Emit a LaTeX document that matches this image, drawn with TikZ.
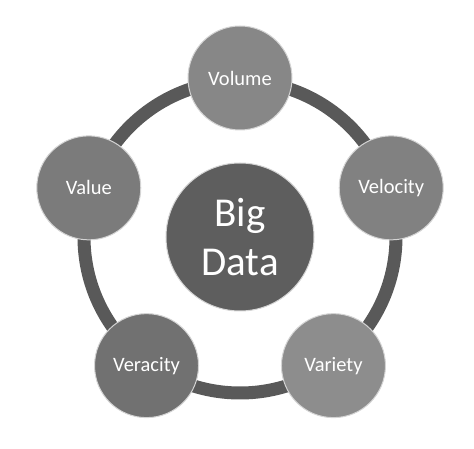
\documentclass[tikz,border=0pt]{standalone}
\usepackage{fontspec}
\setmainfont{Carlito}
\definecolor{ringBd}{HTML}{595959}
\definecolor{rimBd}{HTML}{D4D4D4}
\definecolor{coreFl}{HTML}{5E5E5E}
\definecolor{volFl}{HTML}{878787}
\definecolor{velFl}{HTML}{818181}
\definecolor{varFl}{HTML}{8D8D8D}
\definecolor{verFl}{HTML}{717171}
\definecolor{valFl}{HTML}{7B7B7B}

\begin{document}
\begin{tikzpicture}[
  font=\fontsize{23.3}{27}\selectfont,
  ring/.style={draw=ringBd, line width=0.52cm},
  vee/.style={circle, draw=rimBd, line width=0.04cm, text=white,
              minimum size=4.16cm, inner sep=0pt},
  core/.style={circle, draw=rimBd, line width=0.04cm, fill=coreFl, text=white,
               minimum size=5.92cm, inner sep=0pt, align=center,
               font=\fontsize{46.7}{55.8}\selectfont},
]
\useasboundingbox (-9.6cm,-8.48cm) rectangle (9.36cm,9.48cm);

% ---------------------------- the ring ------------------------------------
\draw[ring] (0,0) circle (6.24cm);

% ---------------------------- the core ------------------------------------
\node[core] (bigdata) at (0,0) {Big\\Data};

% ---------------------------- the five V's --------------------------------
\node[vee, fill=volFl] (volume)   at (90:6.36cm)   {Volume};
\node[vee, fill=velFl] (velocity) at (18:6.36cm)   {Velocity};
\node[vee, fill=varFl] (variety)  at (-54:6.36cm)  {Variety};
\node[vee, fill=verFl] (veracity) at (-126:6.36cm) {Veracity};
\node[vee, fill=valFl] (value)    at (162:6.36cm)  {Value};

\end{tikzpicture}
\end{document}
